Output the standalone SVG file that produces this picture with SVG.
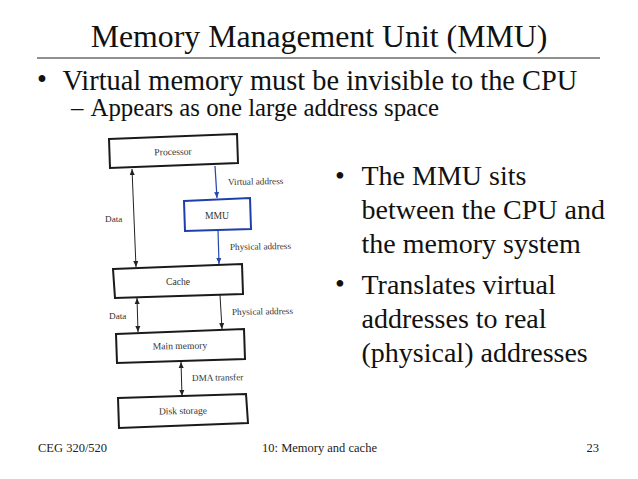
<svg xmlns="http://www.w3.org/2000/svg" width="638" height="479" viewBox="0 0 638 479">
<style>
text{font-family:"Liberation Serif","Times New Roman",serif;fill:#111}
.b{font-size:28.4px}.s{font-size:28px}.f{font-size:12.5px;fill:#222}
.l{font-size:9.2px;fill:#333}
.t{font-size:9.6px;fill:#333}
.n{fill:#fff;stroke:#1a1a1a;stroke-width:2}
.m{fill:#fff;stroke:#1f3fa8;stroke-width:2}
.c{stroke:#222;stroke-width:1;fill:none}
.u{stroke:#2848b0;stroke-width:1.2;fill:none}
</style>
<defs>
<marker id="a" markerWidth="7" markerHeight="7" refX="6" refY="3" orient="auto-start-reverse" markerUnits="userSpaceOnUse"><path d="M0,0.5L6,3L0,5.5z" fill="#222"/></marker>
<marker id="ab" markerWidth="7" markerHeight="7" refX="6" refY="3" orient="auto" markerUnits="userSpaceOnUse"><path d="M0,0.5L6,3L0,5.5z" fill="#2848b0"/></marker>
</defs>
<rect width="638" height="479" fill="#fff"/>
<text x="319" y="46.5" text-anchor="middle" font-size="31.8">Memory Management Unit (MMU)</text>
<line x1="37" y1="58" x2="600" y2="58" stroke="#222" stroke-width="1"/>
<text x="37" y="89" class="b">•</text>
<text x="62.5" y="90" class="b">Virtual memory must be invisible to the CPU</text>
<text x="71" y="116" font-size="24.8">–</text>
<text x="90.5" y="116" font-size="24.8">Appears as one large address space</text>
<g id="connectors">
<path class="u" marker-end="url(#ab)" d="M215,166L217,198"/>
<path class="u" marker-end="url(#ab)" d="M218,230L219,264"/>
<path class="c" marker-start="url(#a)" marker-end="url(#a)" d="M132,169L136,267"/>
<path class="c" marker-start="url(#a)" marker-end="url(#a)" d="M137,298L138,332"/>
<path class="c" marker-end="url(#a)" d="M220,295L222,329"/>
<path class="c" marker-start="url(#a)" marker-end="url(#a)" d="M181,362L182,396"/>
</g>
<g id="processor"><polygon class="n" points="109,139 237,134 238,163 110,168"/><text class="t" x="173" y="155" text-anchor="middle" transform="rotate(-1 173 155)">Processor</text></g>
<g id="mmu"><polygon class="m" points="184,201 250,198 251,229 185,231"/><text class="t" x="217" y="219" text-anchor="middle">MMU</text></g>
<g id="cache"><polygon class="n" points="113,269 242,264 243,294 115,298"/><text class="t" x="178" y="285" text-anchor="middle">Cache</text></g>
<g id="main-memory"><polygon class="n" points="116,334 244,329 245,359 117,363"/><text class="t" x="180" y="349" text-anchor="middle" transform="rotate(-1 180 349)">Main memory</text></g>
<g id="disk-storage"><polygon class="n" points="118,398 246,394 248,423 119,428"/><text class="t" x="183" y="414" text-anchor="middle" transform="rotate(-1 183 414)">Disk storage</text></g>
<g id="labels">
<text class="l" x="228" y="185" transform="rotate(-1 228 185)">Virtual address</text>
<text class="l" x="230" y="250" transform="rotate(-1 230 250)">Physical address</text>
<text class="l" x="105" y="222">Data</text>
<text class="l" x="109" y="319">Data</text>
<text class="l" x="232" y="315" transform="rotate(-1 232 315)">Physical address</text>
<text class="l" x="192" y="381" transform="rotate(-1 192 381)">DMA transfer</text>
</g>
<text x="335" y="185" class="s">•</text><text x="361.5" y="185" class="s">The MMU sits</text>
<text x="361.5" y="219" class="s">between the CPU and</text>
<text x="361.5" y="253" class="s">the memory system</text>
<text x="335" y="293" class="s">•</text><text x="361.5" y="294" class="s">Translates virtual</text>
<text x="361.5" y="328" class="s">addresses to real</text>
<text x="361.5" y="362" class="s">(physical) addresses</text>
<text x="38" y="452" class="f">CEG 320/520</text>
<text x="319.5" y="452" class="f" text-anchor="middle">10: Memory and cache</text>
<text x="599" y="452" class="f" text-anchor="end">23</text>
</svg>
